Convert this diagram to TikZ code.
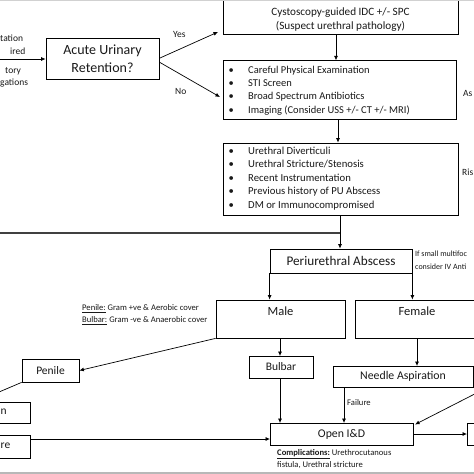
\documentclass[tikz,border=0pt]{standalone}
\usepackage{fontspec}
\setmainfont{Carlito}
\usetikzlibrary{arrows.meta}
\begin{document}
\begin{tikzpicture}[x=1pt,y=-1pt,
 box/.style={draw=black, line width=0.75pt, inner sep=0pt},
 arr/.style={-{Latex[length=4.5pt,width=4pt]}, line width=0.7pt, draw=black},
 conn/.style={line width=0.7pt, draw=black},
 txt/.style={inner sep=0pt, text=black!90},
 small/.style={txt, font=\fontsize{8.6}{10.5}\selectfont, anchor=west},
 side/.style={txt, font=\fontsize{9.5}{11}\selectfont, anchor=west}]
\useasboundingbox (0,0) rectangle (474,474);
\clip (0,0) rectangle (474,474);
\fill[white] (0,0) rectangle (474,474);

% left cropped texts
\node[side] (lt1) at (0,38) {tation};
\node[side] (lt2) at (10,51) {ired};
\node[side] (lt3) at (5,71) {tory};
\node[side] (lt4) at (0,83) {gations};
\coordinate (lin) at (-10,59);

% decision box
\node[box, minimum width=113pt, minimum height=41pt] (acute) at (102.5,58.5) {};
\node[txt, align=center, font=\fontsize{14}{18}\selectfont] (acutet) at (102.5,58.5) {Acute Urinary\\Retention?};
\draw[arr] (lin) -- (acute.west |- lin);

% top box
\node[box, minimum width=235pt, minimum height=40pt, anchor=south] (cysto) at (340.5,35) {};
\node[txt, align=center, font=\fontsize{11.2}{14}\selectfont] (cystot) at (340.5,20) {Cystoscopy-guided IDC +/- SPC\\(Suspect urethral pathology)};

% assessment box
\node[box, minimum width=233pt, minimum height=58.5pt] (assess) at (339.5,90) {};
\node[txt, anchor=west, align=left, font=\fontsize{10.5}{13.2}\selectfont] (assesst) at (228.5,90.5)
 {\makebox[19.5pt][l]{\textbullet}Careful Physical Examination\\
  \makebox[19.5pt][l]{\textbullet}STI Screen\\
  \makebox[19.5pt][l]{\textbullet}Broad Spectrum Antibiotics\\
  \makebox[19.5pt][l]{\textbullet}Imaging (Consider USS +/- CT +/- MRI)};
\node[side] (ast) at (463,93) {As};

% risk box
\node[box, minimum width=235pt, minimum height=72pt] (risk) at (340.5,179) {};
\node[txt, anchor=west, align=left, font=\fontsize{10.7}{13.5}\selectfont] (riskt) at (228.5,178.5)
 {\makebox[19.5pt][l]{\textbullet}Urethral Diverticuli\\
  \makebox[19.5pt][l]{\textbullet}Urethral Stricture/Stenosis\\
  \makebox[19.5pt][l]{\textbullet}Recent Instrumentation\\
  \makebox[19.5pt][l]{\textbullet}Previous history of PU Abscess\\
  \makebox[19.5pt][l]{\textbullet}DM or Immunocompromised};
\node[side] (rst) at (462,172) {Ris};

% yes / no
\coordinate (yesend) at (218,32);
\coordinate (noend) at (220,97);
\draw[arr] (160,58) -- (yesend);
\draw[arr] (160,62.5) -- (noend);
\node[side] (yes) at (173,34) {Yes};
\node[side] (no) at (175,91) {No};

\draw[arr] (336,35) -- (assess.north -| 336,0);
\draw[arr] (338,119.3) -- (risk.north -| 338,0);

% junction
\coordinate (jn) at (340,233);
\coordinate (jl) at (-10,233);
\draw[line width=1.1pt, draw=black!75] (jl) -- (jn);
\draw[conn] (340,215) -- (jn);

% periurethral abscess
\node[box, minimum width=142pt, minimum height=24pt] (perabs) at (341,261) {};
\node[txt, font=\fontsize{13.2}{15}\selectfont] (perabst) at (341,261) {Periurethral Abscess};
\draw[arr] (jn) -- (perabs.north -| jn);
\node[small, font=\fontsize{8}{10}\selectfont] (sm1) at (415,254) {If small multifoc};
\node[small, font=\fontsize{8}{10}\selectfont] (sm2) at (415,267) {consider IV Anti};

% male / female
\node[box, minimum width=129pt, minimum height=38pt] (male) at (280.5,319) {};
\node[txt, font=\fontsize{12.5}{15}\selectfont] (malet) at (280.5,311.5) {Male};
\node[box, minimum width=124pt, minimum height=38pt, anchor=west] (female) at (355,319) {};
\node[txt, font=\fontsize{12.5}{15}\selectfont] (femalet) at (417,311.5) {Female};
\draw[arr] (perabs.south west) -- (perabs.south west |- male.north);
\draw[arr] (perabs.south east) -- (perabs.south east |- female.north);

\node[small] (pg1) at (82,309) {\underline{Penile:} Gram +ve \& Aerobic cover};
\node[small] (pg2) at (82,320.5) {\underline{Bulbar:} Gram -ve \& Anaerobic cover};

% penile
\node[box, minimum width=57pt, minimum height=23pt] (penile) at (50.5,370.5) {};
\node[txt, font=\fontsize{11.5}{14}\selectfont] (penilet) at (50.5,370.5) {Penile};
\draw[arr] (male.south west) -- (penile.east);
\coordinate (pout) at (-22,401);
\draw[conn] (penile.south west) -- (pout);

% cropped left boxes
\node[box, minimum width=91pt, minimum height=21pt, anchor=east] (lb1) at (30.5,412.5) {};
\node[txt, anchor=west, font=\fontsize{11.5}{14}\selectfont] (lb1t) at (0.5,412) {n};
\node[box, minimum width=91pt, minimum height=23pt, anchor=east] (lb2) at (31,446.5) {};
\node[txt, anchor=west, font=\fontsize{11.5}{14}\selectfont] (lb2t) at (0.5,446) {re};

% bulbar
\node[box, minimum width=64pt, minimum height=22pt] (bulbar) at (281,367) {};
\node[txt, font=\fontsize{11.5}{14}\selectfont] (bulbart) at (281,367) {Bulbar};
\draw[arr] (280,338) -- (280,356);

% needle
\node[box, minimum width=140pt, minimum height=21pt] (needle) at (403,376.5) {};
\node[txt, font=\fontsize{11.8}{14}\selectfont] (needlet) at (403,376.5) {Needle Aspiration};
\draw[arr] (417,338) -- (417,366);

% open I&D
\node[box, minimum width=143pt, minimum height=22pt] (open) at (341.5,434) {};
\node[txt, font=\fontsize{11.8}{14}\selectfont] (opent) at (341.5,434) {Open I\&D};
\draw[arr] (280,378) -- (280,423);
\draw[arr] (344,387) -- (344,423);
\node[small, font=\fontsize{8.6}{10}\selectfont] (fail) at (347,403) {Failure};
\coordinate (dstart) at (495,383.6);
\draw[arr] (dstart) -- (415,424.5);
\draw[arr] (31,439) -- (270,439);

\node[box, minimum width=40pt, minimum height=22pt, anchor=west] (rb) at (467,434) {};
\draw[arr] (open.east) -- (rb.west);

\node[small] (c1) at (277,454) {\underline{\textbf{Complications:}} Urethrocutanous};
\node[small] (c2) at (277,465.5) {fistula, Urethral stricture};

% border bands
\fill[black!28] (0,471.5) rectangle (474,474);
\fill[black!18] (0,0) rectangle (474,0.8);
\end{tikzpicture}
\end{document}
